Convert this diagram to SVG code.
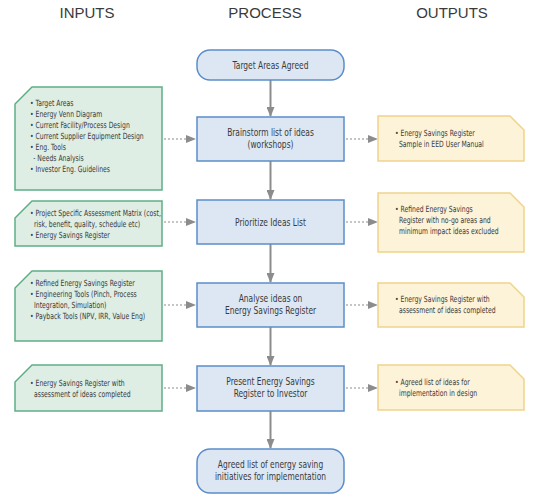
<svg xmlns="http://www.w3.org/2000/svg" width="534" height="504" viewBox="0 0 534 504">
<defs>
<marker id="ah" markerWidth="10" markerHeight="8" refX="9" refY="4" orient="auto" markerUnits="userSpaceOnUse">
<path d="M0,0 L10,4 L0,8 Z" fill="#8c8c8c"/>
</marker>
<style>
.hdr{font-family:"Liberation Sans",Arial,sans-serif;font-size:15px;fill:#3a3a3a;text-anchor:middle}
.proc{fill:#dde7f4;stroke:#5b8ec9;stroke-width:1.5}
.inp{fill:#deeee5;stroke:#5fae86;stroke-width:1.5}
.out{fill:#fdf3d9;stroke:#efd48c;stroke-width:1.5}
.pt{font-family:"DejaVu Sans Condensed","Liberation Sans",sans-serif;font-size:11px;fill:#3a3a3a;text-anchor:middle}
.bt{font-family:"DejaVu Sans Condensed","Liberation Sans",sans-serif;font-size:8.5px;fill:#3a3a3a}
.flow{stroke:#8c8c8c;stroke-width:2;fill:none}
.dot{stroke:#8c8c8c;stroke-width:1.2;stroke-dasharray:2,2;fill:none}
</style>
</defs>
<text class="hdr" x="87" y="18">INPUTS</text>
<text class="hdr" x="265" y="18">PROCESS</text>
<text class="hdr" x="452" y="18">OUTPUTS</text>

<g id="connectors">
<line class="flow" x1="270.5" y1="80" x2="270.5" y2="116" marker-end="url(#ah)"/>
<line class="flow" x1="270.5" y1="161" x2="270.5" y2="199" marker-end="url(#ah)"/>
<line class="flow" x1="270.5" y1="244" x2="270.5" y2="282" marker-end="url(#ah)"/>
<line class="flow" x1="270.5" y1="327" x2="270.5" y2="365" marker-end="url(#ah)"/>
<line class="flow" x1="270.5" y1="411" x2="270.5" y2="448" marker-end="url(#ah)"/>
<line class="dot" x1="164" y1="139" x2="195" y2="139" marker-end="url(#ah)"/>
<line class="dot" x1="164" y1="222" x2="195" y2="222" marker-end="url(#ah)"/>
<line class="dot" x1="164" y1="305" x2="195" y2="305" marker-end="url(#ah)"/>
<line class="dot" x1="164" y1="388" x2="195" y2="388" marker-end="url(#ah)"/>
<line class="dot" x1="346" y1="139" x2="377" y2="139" marker-end="url(#ah)"/>
<line class="dot" x1="346" y1="222" x2="377" y2="222" marker-end="url(#ah)"/>
<line class="dot" x1="346" y1="305" x2="377" y2="305" marker-end="url(#ah)"/>
<line class="dot" x1="346" y1="388" x2="377" y2="388" marker-end="url(#ah)"/>
</g>

<g id="target">
<rect class="proc" x="197" y="50" width="147" height="30" rx="13"/>
<g transform="translate(270.5 0) scale(0.76 1)"><text class="pt" x="0" y="69">Target Areas Agreed</text></g>
</g>
<g id="brainstorm">
<rect class="proc" x="197" y="117" width="147" height="44"/>
<g transform="translate(270.5 0) scale(0.76 1)">
<text class="pt" x="0" y="136">Brainstorm list of ideas</text>
<text class="pt" x="0" y="148.5">(workshops)</text>
</g>
</g>
<g id="prioritize">
<rect class="proc" x="197" y="200" width="147" height="44"/>
<g transform="translate(270.5 0) scale(0.76 1)"><text class="pt" x="0" y="226">Prioritize Ideas List</text></g>
</g>
<g id="analyse">
<rect class="proc" x="197" y="283" width="147" height="44"/>
<g transform="translate(270.5 0) scale(0.76 1)">
<text class="pt" x="0" y="302">Analyse ideas on</text>
<text class="pt" x="0" y="314.5">Energy Savings Register</text>
</g>
</g>
<g id="present">
<rect class="proc" x="197" y="366" width="147" height="45"/>
<g transform="translate(270.5 0) scale(0.76 1)">
<text class="pt" x="0" y="385">Present Energy Savings</text>
<text class="pt" x="0" y="397.5">Register to Investor</text>
</g>
</g>
<g id="final">
<rect class="proc" x="197" y="449" width="147" height="44" rx="13"/>
<g transform="translate(270.5 0) scale(0.76 1)">
<text class="pt" x="0" y="468">Agreed list of energy saving</text>
<text class="pt" x="0" y="480.5">initiatives for implementation</text>
</g>
</g>

<g id="input1">
<path class="inp" d="M32,87 H162 V190 H15 V104 Z"/>
<g transform="translate(30 0) scale(0.8 1)">
<text class="bt" x="0" y="106">• Target Areas</text>
<text class="bt" x="0" y="117">• Energy Venn Diagram</text>
<text class="bt" x="0" y="128">• Current Facility/Process Design</text>
<text class="bt" x="0" y="139">• Current Supplier Equipment Design</text>
<text class="bt" x="0" y="150">• Eng. Tools</text>
<text class="bt" x="4" y="161">- Needs Analysis</text>
<text class="bt" x="0" y="172">• Investor Eng. Guidelines</text>
</g>
</g>
<g id="input2">
<path class="inp" d="M32,201 H162 V246 H15 V218 Z"/>
<g transform="translate(30 0) scale(0.8 1)">
<text class="bt" x="0" y="216">• Project Specific Assessment Matrix (cost,</text>
<text class="bt" x="5" y="227">risk, benefit, quality, schedule etc)</text>
<text class="bt" x="0" y="238">• Energy Savings Register</text>
</g>
</g>
<g id="input3">
<path class="inp" d="M32,271 H162 V341 H15 V288 Z"/>
<g transform="translate(30 0) scale(0.8 1)">
<text class="bt" x="0" y="286">• Refined Energy Savings Register</text>
<text class="bt" x="0" y="297">• Engineering Tools (Pinch, Process</text>
<text class="bt" x="5" y="308">Integration, Simulation)</text>
<text class="bt" x="0" y="319">• Payback Tools (NPV, IRR, Value Eng)</text>
</g>
</g>
<g id="input4">
<path class="inp" d="M32,365 H162 V411 H15 V382 Z"/>
<g transform="translate(30 0) scale(0.8 1)">
<text class="bt" x="0" y="386">• Energy Savings Register with</text>
<text class="bt" x="5" y="397">assessment of ideas completed</text>
</g>
</g>

<g id="output1">
<path class="out" d="M378,116 H510 L524,130 V161 H378 Z"/>
<g transform="translate(395 0) scale(0.8 1)">
<text class="bt" x="0" y="136">• Energy Savings Register</text>
<text class="bt" x="5" y="147">Sample in EED User Manual</text>
</g>
</g>
<g id="output2">
<path class="out" d="M378,193 H510 L524,207 V252 H378 Z"/>
<g transform="translate(395 0) scale(0.8 1)">
<text class="bt" x="0" y="212">• Refined Energy Savings</text>
<text class="bt" x="5" y="223">Register with no-go areas and</text>
<text class="bt" x="5" y="234">minimum impact ideas excluded</text>
</g>
</g>
<g id="output3">
<path class="out" d="M378,283 H510 L524,297 V327 H378 Z"/>
<g transform="translate(395 0) scale(0.8 1)">
<text class="bt" x="0" y="302">• Energy Savings Register with</text>
<text class="bt" x="5" y="313">assessment of ideas completed</text>
</g>
</g>
<g id="output4">
<path class="out" d="M378,365 H510 L524,379 V410 H378 Z"/>
<g transform="translate(395 0) scale(0.8 1)">
<text class="bt" x="0" y="385">• Agreed list of ideas for</text>
<text class="bt" x="5" y="396">implementation in design</text>
</g>
</g>
</svg>
